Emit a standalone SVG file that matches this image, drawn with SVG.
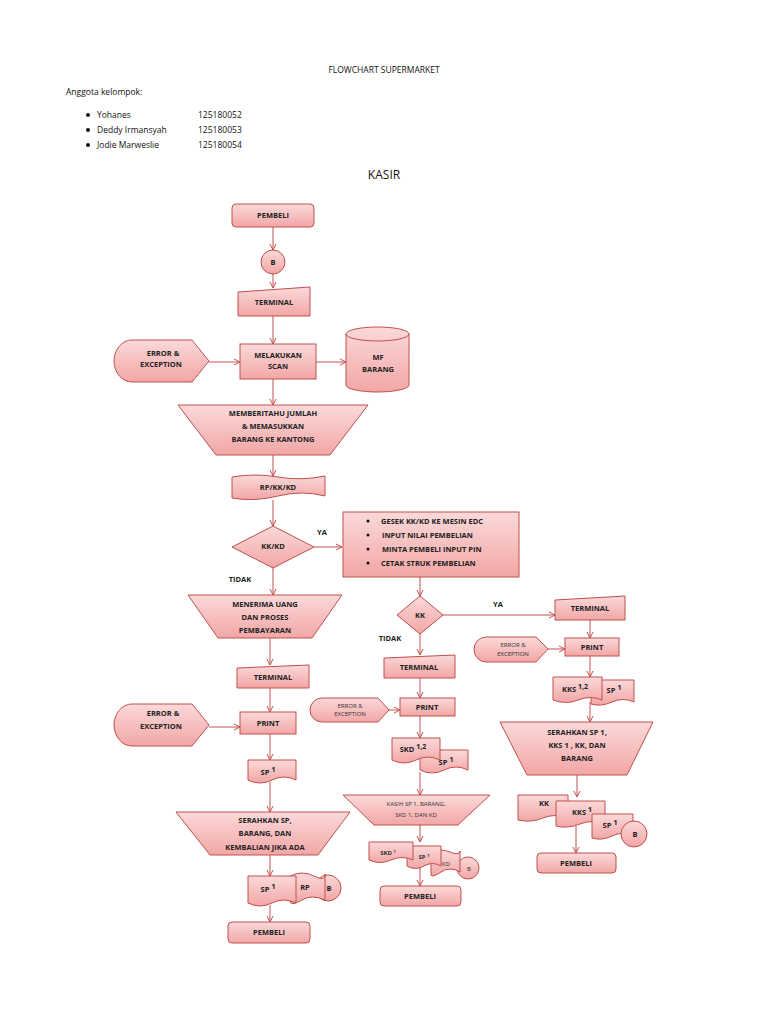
<svg xmlns="http://www.w3.org/2000/svg" width="768" height="1024" viewBox="0 0 768 1024">
<defs>
<linearGradient id="g" x1="0" y1="0" x2="0" y2="1"><stop offset="0" stop-color="#fbd9d9"/><stop offset="1" stop-color="#f2a6a6"/></linearGradient>
<marker id="a" markerWidth="8" markerHeight="8" refX="7" refY="4" orient="auto" markerUnits="userSpaceOnUse"><path d="M1,1 L7,4 L1,7" fill="none" stroke="#c0504d" stroke-width="1"/></marker>
</defs>
<style>
.s{fill:url(#g);stroke:#c0504d;stroke-width:1}
.t{font-family:"Open Sans","Liberation Sans",sans-serif;font-size:7.5px;font-weight:bold;fill:#222;text-anchor:middle}
.sm{font-family:"Open Sans","Liberation Sans",sans-serif;font-size:6px;fill:#333;text-anchor:middle}
.h{font-family:"Open Sans","Liberation Sans",sans-serif;font-size:8.5px;fill:#111}
.c line,.c path{stroke:#c0504d;stroke-width:1;fill:none;marker-end:url(#a)}
.n{stroke:#c0504d;stroke-width:1;fill:none}
</style>
<rect width="768" height="1024" fill="#fff"/>
<text class="h" x="384" y="73" text-anchor="middle">FLOWCHART SUPERMARKET</text>
<text class="h" x="66" y="95">Anggota kelompok:</text>
<g class="h"><circle cx="88" cy="115" r="2" fill="#111"/><text x="97" y="118">Yohanes</text><text x="198" y="118">125180052</text>
<circle cx="88" cy="130" r="2" fill="#111"/><text x="97" y="133">Deddy Irmansyah</text><text x="198" y="133">125180053</text>
<circle cx="88" cy="145" r="2" fill="#111"/><text x="97" y="148">Jodie Marweslie</text><text x="198" y="148">125180054</text></g>
<text x="384" y="179" text-anchor="middle" style="font-family:'Open Sans','Liberation Sans',sans-serif;font-size:12px;fill:#111">KASIR</text>

<g class="c">
<line x1="273" y1="227" x2="273" y2="250"/>
<line x1="273" y1="274" x2="273" y2="288"/>
<line x1="273" y1="316" x2="273" y2="344"/>
<line x1="209" y1="362" x2="240" y2="362"/>
<line x1="316" y1="362" x2="346" y2="362"/>
<line x1="273" y1="379" x2="273" y2="405"/>
<line x1="273" y1="455" x2="273" y2="476"/>
<line x1="273" y1="500" x2="273" y2="526"/>
<line x1="314" y1="547" x2="342" y2="547"/>
<line x1="273" y1="568" x2="273" y2="595"/>
<line x1="270" y1="638" x2="270" y2="665"/>
<line x1="270" y1="688" x2="270" y2="712"/>
<line x1="209" y1="727" x2="240" y2="727"/>
<line x1="270" y1="734" x2="270" y2="760"/>
<line x1="270" y1="782" x2="270" y2="812"/>
<line x1="270" y1="855" x2="270" y2="876"/>
<line x1="270" y1="905" x2="270" y2="922"/>
<line x1="420" y1="577" x2="420" y2="596"/>
<path d="M443,615 H555"/>
<line x1="420" y1="634" x2="420" y2="655"/>
<line x1="420" y1="678" x2="420" y2="698"/>
<line x1="389" y1="710" x2="400" y2="710"/>
<line x1="420" y1="716" x2="420" y2="738"/>
<line x1="420" y1="772" x2="420" y2="795"/>
<line x1="420" y1="825" x2="420" y2="842"/>
<line x1="420" y1="868" x2="420" y2="886"/>
<line x1="590" y1="620" x2="590" y2="638"/>
<line x1="548" y1="649" x2="565" y2="649"/>
<line x1="590" y1="656" x2="590" y2="677"/>
<line x1="590" y1="702" x2="590" y2="722"/>
<line x1="577" y1="775" x2="577" y2="797"/>
<line x1="576" y1="826" x2="576" y2="853"/>
</g>

<g id="pembeli1"><rect class="s" x="232" y="204" width="82" height="23" rx="4"/><text class="t" x="273" y="218">PEMBELI</text></g>
<g id="b1"><circle class="s" cx="273" cy="262" r="12"/><text class="t" x="273" y="265">B</text></g>
<g id="terminal1"><path class="s" d="M238,292 L310,287 V316 H238 Z"/><text class="t" x="274" y="305">TERMINAL</text></g>
<g id="error1"><path class="s" d="M132,340 H192 L209,361 L192,382 H132 A18,21 0 0 1 132,340 Z"/><text class="t" x="163" y="356">ERROR &amp;</text><text class="t" x="161" y="367">EXCEPTION</text></g>
<g id="scan"><rect class="s" x="240" y="344" width="76" height="35"/><text class="t" x="278" y="358">MELAKUKAN</text><text class="t" x="278" y="369">SCAN</text></g>
<g id="mf"><path class="s" d="M346,334 V385 A31.5,7 0 0 0 409,385 V334 A31.5,7 0 0 0 346,334 Z"/><path class="n" d="M346,334 A31.5,7 0 0 0 409,334"/><text class="t" x="378" y="360">MF</text><text class="t" x="378" y="372">BARANG</text></g>
<g id="beritahu"><path class="s" d="M178,405 H368 L330,455 H216 Z"/><text class="t" x="273" y="416">MEMBERITAHU JUMLAH</text><text class="t" x="273" y="429">&amp; MEMASUKKAN</text><text class="t" x="273" y="442">BARANG KE KANTONG</text></g>
<g id="rpkkkd"><path class="s" d="M232,477 Q255,473 278,477 T325,476 V496 Q302,490 278,496 T232,498 Z"/><text class="t" x="278" y="490">RP/KK/KD</text></g>
<g id="kkkd"><path class="s" d="M273,526 L314,547 L273,568 L232,547 Z"/><text class="t" x="273" y="549">KK/KD</text></g>
<text class="t" x="322" y="535">YA</text>
<g id="proses"><rect class="s" x="343" y="512" width="176" height="65"/>
<g class="t" style="text-anchor:start"><circle cx="368" cy="521" r="1.5" fill="#111"/><text x="381" y="524">GESEK KK/KD KE MESIN EDC</text>
<circle cx="368" cy="535" r="1.5" fill="#111"/><text x="382" y="538">INPUT NILAI PEMBELIAN</text>
<circle cx="368" cy="549" r="1.5" fill="#111"/><text x="382" y="552">MINTA PEMBELI INPUT PIN</text>
<circle cx="368" cy="563" r="1.5" fill="#111"/><text x="381" y="566">CETAK STRUK PEMBELIAN</text></g></g>
<text class="t" x="240" y="582">TIDAK</text>
<g id="menerima"><path class="s" d="M188,595 H342 L312,638 H218 Z"/><text class="t" x="265" y="607">MENERIMA UANG</text><text class="t" x="265" y="620">DAN PROSES</text><text class="t" x="265" y="633">PEMBAYARAN</text></g>
<g id="terminal2"><path class="s" d="M237,668 L309,665 V688 H237 Z"/><text class="t" x="273" y="680">TERMINAL</text></g>
<g id="error2"><path class="s" d="M132,704 H192 L209,725 L192,746 H132 A18,21 0 0 1 132,704 Z"/><text class="t" x="163" y="716">ERROR &amp;</text><text class="t" x="161" y="729">EXCEPTION</text></g>
<g id="print1"><rect class="s" x="240" y="712" width="56" height="22"/><text class="t" x="268" y="726">PRINT</text></g>
<g id="sp1"><path class="s" d="M248,760 H296 V780 Q284,774 272,780 T248,780 Z"/><text class="t" x="268" y="775">SP <tspan dy="-3" font-size="7">1</tspan></text></g>
<g id="serahkan1"><path class="s" d="M176,812 H350 L318,855 H210 Z"/><text class="t" x="265" y="823">SERAHKAN SP,</text><text class="t" x="265" y="836">BARANG, DAN</text><text class="t" x="265" y="850">KEMBALIAN JIKA ADA</text></g>
<g id="multi1"><circle class="s" cx="328" cy="888" r="13"/><path class="s" d="M290,876 Q302,870 314,876 T325,874 V900 Q312,894 302,900 T290,902 Z"/><path class="s" d="M248,876 H296 V903 Q284,897 272,903 T248,903 Z"/><text class="t" x="268" y="892">SP <tspan dy="-3" font-size="7">1</tspan></text><text class="t" x="305" y="890">RP</text><text class="t" x="329" y="891">B</text></g>
<g id="pembeli2"><rect class="s" x="228" y="922" width="82" height="21" rx="4"/><text class="t" x="269" y="935">PEMBELI</text></g>

<g id="kk"><path class="s" d="M420,596 L443,615 L420,634 L397,615 Z"/><text class="t" x="420" y="618">KK</text></g>
<text class="t" x="498" y="607">YA</text>
<text class="t" x="390" y="641">TIDAK</text>
<g id="terminal3"><path class="s" d="M384,658 L455,655 V678 H384 Z"/><text class="t" x="419" y="670">TERMINAL</text></g>
<g id="error3"><path class="s" d="M322,698 H378 L389,710 L378,722 H322 A12,12 0 0 1 322,698 Z"/><text class="sm" x="350" y="708">ERROR &amp;</text><text class="sm" x="350" y="716">EXCEPTION</text></g>
<g id="print2"><rect class="s" x="400" y="698" width="55" height="18"/><text class="t" x="427" y="710">PRINT</text></g>
<g id="skd"><path class="s" d="M420,750 H468 V770 Q456,764 444,770 T420,770 Z"/><path class="s" d="M392,738 H440 V760 Q428,754 416,760 T392,760 Z"/><text class="t" x="413" y="752">SKD <tspan dy="-3" font-size="7">1,2</tspan></text><text class="t" x="446" y="765">SP <tspan dy="-3" font-size="7">1</tspan></text></g>
<g id="kasih"><path class="s" d="M343,795 H490 L458,825 H374 Z"/><text class="sm" x="416" y="806">KASIH SP 1, BARANG,</text><text class="sm" x="416" y="817">SKD 1, DAN KD</text></g>
<g id="multi2"><circle class="s" cx="468" cy="868" r="11"/><path class="s" d="M431,852 Q441,848 450,852 T460,851 V872 Q450,866 441,872 T431,875 Z"/><path class="s" d="M407,846 H441 V866 Q432,861 424,866 T407,866 Z"/><path class="s" d="M369,842 H413 V860 Q402,855 391,860 T369,860 Z"/><text class="sm" x="388" y="855" font-weight="bold">SKD <tspan dy="-2" font-size="4">1</tspan></text><text class="sm" x="424" y="859" font-weight="bold">SP <tspan dy="-2" font-size="4">1</tspan></text><text class="sm" x="446" y="866">KD</text><text class="sm" x="469" y="871">B</text></g>
<g id="pembeli3"><rect class="s" x="380" y="886" width="81" height="20" rx="4"/><text class="t" x="420" y="899">PEMBELI</text></g>

<g id="terminal4"><path class="s" d="M555,600 L625,596 V620 H555 Z"/><text class="t" x="590" y="611">TERMINAL</text></g>
<g id="error4"><path class="s" d="M486,637 H536 L548,649 L536,662 H486 A12,12.5 0 0 1 486,637 Z"/><text class="sm" x="513" y="647">ERROR &amp;</text><text class="sm" x="513" y="656">EXCEPTION</text></g>
<g id="print3"><rect class="s" x="565" y="638" width="54" height="18"/><text class="t" x="592" y="650">PRINT</text></g>
<g id="kks"><path class="s" d="M591,680 H634 V702 Q623,697 612,702 T591,704 Z"/><path class="s" d="M553,677 H602 V700 Q590,695 578,700 T553,700 Z"/><text class="t" x="575" y="692">KKS <tspan dy="-3" font-size="7">1,2</tspan></text><text class="t" x="614" y="693">SP <tspan dy="-3" font-size="7">1</tspan></text></g>
<g id="serahkan2"><path class="s" d="M500,722 H653 L627,775 H527 Z"/><text class="t" x="577" y="735">SERAHKAN SP 1,</text><text class="t" x="577" y="748">KKS 1 , KK, DAN</text><text class="t" x="577" y="761">BARANG</text></g>
<g id="multi3"><path class="s" d="M518,795 H568 V818 Q555,813 543,818 T518,820 Z"/><path class="s" d="M556,801 H605 V824 Q593,819 580,824 T556,826 Z"/><path class="s" d="M592,814 H633 V836 Q622,831 612,836 T592,838 Z"/><circle class="s" cx="634" cy="834" r="13"/><text class="t" x="544" y="806">KK</text><text class="t" x="582" y="815">KKS <tspan dy="-3" font-size="7">1</tspan></text><text class="t" x="610" y="828">SP <tspan dy="-3" font-size="7">1</tspan></text><text class="t" x="635" y="837">B</text></g>
<g id="pembeli4"><rect class="s" x="537" y="853" width="79" height="20" rx="4"/><text class="t" x="576" y="866">PEMBELI</text></g>
</svg>
